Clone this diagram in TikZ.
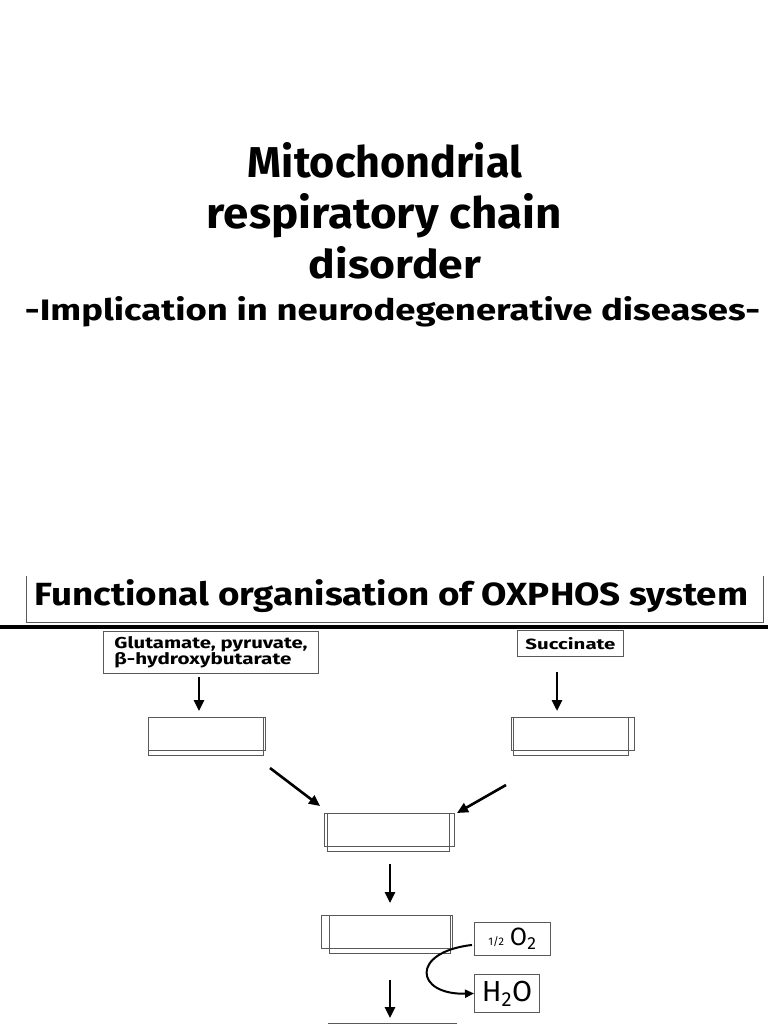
\documentclass[tikz,border=0pt]{standalone}
\usepackage{fontspec}
\setmainfont{Fira Sans}
\usetikzlibrary{arrows.meta,calc}
\newcommand\fitwh[3]{\resizebox{#1}{#2}{#3}}
\begin{document}
\begin{tikzpicture}[x=1pt,y=-1pt,
  boxline/.style={draw=black!65, line width=0.9pt},
  cplx/.style={boxline, inner sep=0pt, anchor=north west},
  txt/.style={inner sep=0pt, anchor=base},
  arr/.style={line width=2.6pt, -{Triangle[length=11pt,width=10pt]}},
  lbl/.style={boxline, fill=white, inner sep=0pt, anchor=north west}]
\useasboundingbox (0,0) rectangle (768,1024);
\fill[white] (0,0) rectangle (768,1024);
% titles
\node[txt] (t1) at (385,178) {\bfseries\fitwh{274pt}{35pt}{Mitochondrial}};
\node[txt] (t2) at (384.5,228) {\bfseries\fitwh{355pt}{35pt}{respiratory chain}};
\node[txt] (t3) at (395,278) {\bfseries\fitwh{172pt}{32pt}{disorder}};
\node[txt] (t4) at (392.5,320) {\bfseries\fitwh{735pt}{24pt}{-Implication in neurodegenerative diseases-}};
% header
\draw[boxline] (26,576) |- (763,622) -- (763,576);
\node[txt] (hdr) at (391.5,605) {\bfseries\fitwh{713pt}{26pt}{Functional organisation of OXPHOS system}};
\draw[line width=4pt] (0,627) -- (768,627);
% substrates
\node[lbl, minimum width=215pt, minimum height=42pt] (glu) at (103,631)
  {\bfseries\vbox{\baselineskip=16pt\lineskiplimit=-20pt
    \hbox{\fitwh{193pt}{12pt}{Glutamate, pyruvate,}}
    \hbox{\fitwh{177pt}{12pt}{β-hydroxybutarate}}}};
\node[lbl, minimum width=106pt, minimum height=26pt] (suc) at (517,630)
  {\bfseries\fitwh{90pt}{12pt}{Succinate}};
% complexes
\node[cplx, minimum width=117pt, minimum height=33pt] (c1) at (148,717) {};
\draw[boxline] (c1.north west) rectangle ($(c1.south east)+(-2,5)$);
\node[cplx, minimum width=123pt, minimum height=33pt] (c2) at (511,717) {};
\draw[boxline] ($(c2.north west)+(2,0)$) rectangle ($(c2.south east)+(-6,5)$);
\node[cplx, minimum width=130pt, minimum height=33pt] (c3) at (324,813) {};
\draw[boxline] ($(c3.north west)+(3,0)$) rectangle ($(c3.south east)+(-5,5)$);
\node[cplx, minimum width=131pt, minimum height=33pt] (c4) at (321,915) {};
\draw[boxline] ($(c4.north west)+(8,0)$) rectangle ($(c4.south east)+(-2,5)$);
\node[cplx, minimum width=128pt, minimum height=40pt] (c5) at (328,1023) {};
% oxygen / water
\node[lbl, minimum width=76pt, minimum height=33pt] (o2) at (474,922)
  {{\fontsize{11}{11}\selectfont 1/2}\hspace{6pt}{\fontsize{25}{25}\selectfont O\textsubscript{2}}};
\node[lbl, minimum width=65pt, minimum height=38pt] (h2o) at (474,974)
  {\fontsize{29}{29}\selectfont H\textsubscript{2}O};
% arrows
\coordinate (a1s) at (199,677); \coordinate (a1e) at (199,711);
\coordinate (a2s) at (557,672); \coordinate (a2e) at (557,711);
\coordinate (a3s) at (270,768); \coordinate (a3e) at (320,806);
\coordinate (a4s) at (506,785); \coordinate (a4e) at (457,813);
\coordinate (a5s) at (390,864); \coordinate (a5e) at (390,903);
\coordinate (a6s) at (390,980); \coordinate (a6e) at (390,1018);
\draw[arr] (a1s) -- (a1e);
\draw[arr] (a2s) -- (a2e);
\draw[arr] (a3s) -- (a3e);
\draw[arr] (a4s) -- (a4e);
\draw[arr] (a5s) -- (a5e);
\draw[arr] (a6s) -- (a6e);
\draw[line width=2pt, -{Triangle[length=9pt,width=8pt]}] ($(o2.west)+(-2,6)$) .. controls (410,952) and (415,995) .. (h2o.west);
\end{tikzpicture}
\end{document}
